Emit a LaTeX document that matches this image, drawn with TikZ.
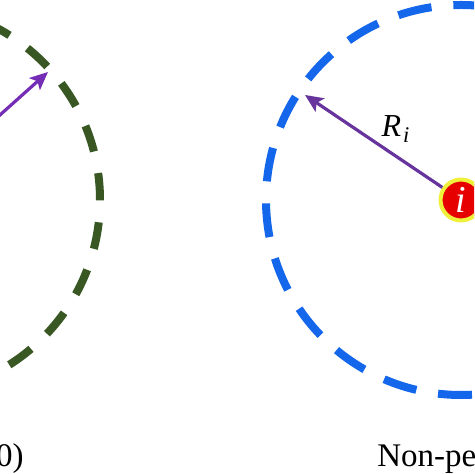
\documentclass[tikz,border=0pt]{standalone}
\usepackage{fontspec}
\setmainfont{Liberation Serif}
\usetikzlibrary{arrows.meta}
\definecolor{moss}{RGB}{56,87,35}
\definecolor{azure}{RGB}{20,102,235}
\definecolor{grape}{RGB}{118,45,182}
\definecolor{plum}{RGB}{102,52,156}
\definecolor{signal}{RGB}{230,0,0}
\definecolor{lemon}{RGB}{238,240,60}
\tikzset{
  >={Stealth[length=9pt,width=8pt,inset=2pt]},
  rangecircle/.style={draw=#1,line width=4pt,dash pattern=on 14pt off 11pt},
  rangecircle/.default=azure,
  radius arrow/.style={->,line width=1.6pt,draw=#1,color=#1},
  radius arrow/.default=grape,
  agent/.style={circle,fill=signal,draw=lemon,line width=2pt,minimum size=20.5pt,
    inner sep=0pt,text=white,font=\fontsize{19}{19}\selectfont\itshape},
  caption/.style={font=\fontsize{16.5}{20}\selectfont,inner sep=0pt},
  tag/.style={font=\fontsize{16}{16}\selectfont\itshape,inner sep=0pt},
}
\begin{document}
\begin{tikzpicture}[x=0.5pt,y=0.5pt]
    \useasboundingbox (0,0) rectangle (474,474);
    \clip (0,0) rectangle (474,474);
    % left panel (cut off)
    \coordinate (gc) at (-95,274);
    \coordinate (gtip) at (48,402);
    \draw[rangecircle=moss,dash pattern=on 13.5pt off 11pt] (gc) circle (97.5pt);
    \draw[radius arrow] (gc) -- (gtip);
    \node[caption,anchor=base east] (lcap) at (24,7) {0)};
    % right panel
    \coordinate (ic) at (461,274);
    \coordinate (btip) at (305,379);
    \draw[rangecircle=azure,dash pattern=on 17pt off 11pt] (ic) circle (97.5pt);
    \node[agent] (i) at (ic) {i};
    \draw[radius arrow=plum] (i) -- (btip);
    \node[tag] (ri) at (396,345) {R\textsubscript{\kern1pt i}};
    \node[caption,anchor=base west] (rcap) at (377,7) {Non-pe};
  \end{tikzpicture}
\end{document}
